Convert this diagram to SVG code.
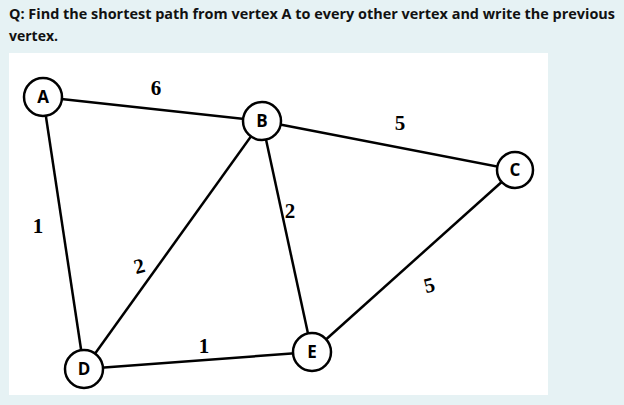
<svg xmlns="http://www.w3.org/2000/svg" width="624" height="405" viewBox="0 0 624 405">
<style>
.q{font-family:"Open Sans","Liberation Sans",sans-serif;font-weight:bold;font-size:14px;fill:#111}
.n circle{fill:#fff;stroke:#000;stroke-width:2.5}
.n text{font-family:"Open Sans","Liberation Sans",sans-serif;font-weight:bold;font-size:17px;text-anchor:middle}
.e line{stroke:#000;stroke-width:2.5}
.w{font-family:"Liberation Serif",serif;font-weight:bold;font-size:21px;text-anchor:middle}
</style>
<rect width="624" height="405" fill="#e6f2f4"/>
<text class="q" x="9" y="19" textLength="606" lengthAdjust="spacingAndGlyphs">Q: Find the shortest path from vertex A to every other vertex and write the previous</text>
<text class="q" x="9" y="41">vertex.</text>
<rect x="9" y="53" width="539" height="342" fill="#fff"/>
<g id="connectors" class="e">
<line x1="43" y1="97" x2="262" y2="121"/>
<line x1="262" y1="121" x2="515" y2="170"/>
<line x1="43" y1="97" x2="84" y2="369"/>
<line x1="262" y1="121" x2="84" y2="369"/>
<line x1="262" y1="121" x2="312" y2="352"/>
<line x1="84" y1="369" x2="312" y2="352"/>
<line x1="312" y1="352" x2="515" y2="170"/>
</g>
<g id="labels">
<text class="w" x="156" y="95">6</text>
<text class="w" x="400" y="130">5</text>
<text class="w" x="38" y="233">1</text>
<text class="w" x="290" y="218">2</text>
<text class="w" transform="translate(141,273) rotate(-15)">2</text>
<text class="w" x="204" y="353">1</text>
<text class="w" transform="translate(431,292) rotate(-15)">5</text>
</g>
<g id="A" class="n"><circle cx="43" cy="97" r="19"/><text x="43" y="103">A</text></g>
<g id="B" class="n"><circle cx="262" cy="121" r="19"/><text x="262" y="127">B</text></g>
<g id="C" class="n"><circle cx="515" cy="170" r="18"/><text x="515" y="176">C</text></g>
<g id="D" class="n"><circle cx="84" cy="369" r="19"/><text x="84" y="375">D</text></g>
<g id="E" class="n"><circle cx="312" cy="352" r="19"/><text x="312" y="358">E</text></g>
</svg>
